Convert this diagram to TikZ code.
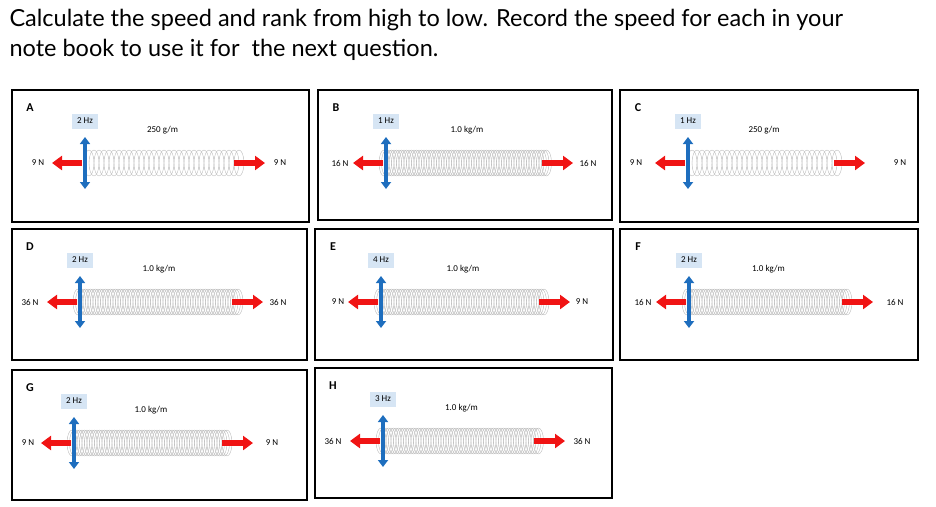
\documentclass[tikz,border=0pt]{standalone}
\usepackage{fontspec}
\setmainfont{Lato}
\newfontfamily\smallf{Carlito}
\usetikzlibrary{arrows.meta}
\definecolor{hzbg}{RGB}{214,229,244}
\definecolor{bluea}{RGB}{30,110,190}
\definecolor{reda}{RGB}{240,20,20}
\tikzset{
 frame/.style={draw=black,line width=2.5pt},
 hzbox/.style={fill=hzbg,minimum width=26pt,minimum height=15pt,inner sep=0pt,font=\smallf\fontsize{9}{10}\selectfont},
 lbl/.style={font=\smallf\fontsize{9}{10}\selectfont,inner sep=1pt},
 letter/.style={font=\smallf\bfseries\fontsize{12}{13}\selectfont},
 coil/.style={draw=gray!55,line width=0.4pt},
 vib/.style={bluea,line width=4pt,{Triangle[width=10pt,length=7pt]}-{Triangle[width=10pt,length=7pt]}},
 pull/.style={reda,line width=6pt,-{Triangle[width=14pt,length=10pt]}}
}
\begin{document}
\begin{tikzpicture}[x=1pt,y=-1pt]
\useasboundingbox (0,0) rectangle (936,506);
\node[anchor=west,font=\fontsize{23.5}{28}\selectfont] (t1) at (6,20) {Calculate the speed and rank from high to low. Record the speed for each in your};
\node[anchor=west,font=\fontsize{23.5}{28}\selectfont] (t2) at (6,50) {note book to use it for\ \ the next question.};
\foreach \xa/\xb/\ya/\yb/\L/\hz/\dn/\N/\bx/\se/\ll/\rl/\st/\so in {
 12/309/90/222/A/2/250 g\slash m/9/85/240/38/280/5/4,
 318/612/90/220/B/1/1.0 kg\slash m/16/386/548/340/588/2.5/-2,
 620/918/90/222/C/1/250 g\slash m/9/688/840/636/900/5/4,
 12/307/229/360/D/2/1.0 kg\slash m/36/80/238/30/278/2.5/-2,
 315/613/229/360/E/4/1.0 kg\slash m/9/381/545/338/582/2.5/-2,
 620/918/229/360/F/2/1.0 kg\slash m/16/689/848/643/895/2.5/-2,
 12/307/370/500/G/2/1.0 kg\slash m/9/74/228/28/272/2.5/-2,
 315/612/368/498/H/3/1.0 kg\slash m/36/383/540/333/582/2.5/-2}{
 \pgfmathsetmacro\yc{\ya+73}
 \pgfmathsetmacro\yh{\ya+31}
 \pgfmathsetmacro\yd{\ya+40}
 \pgfmathsetmacro\xm{(\bx+\se)/2}
 \draw[frame] (\xa,\ya) rectangle (\xb,\yb);
 \node[letter] (let\L) at (\xa+18,\ya+18) {\L};
 \pgfmathsetmacro\ss{\bx+\so}
 \pgfmathsetmacro\sn{\bx+\so+\st}
 \foreach \x in {\ss,\sn,...,\se}{\draw[coil] (\x,\yc) ellipse (5pt and 13pt);}
 \node[hzbox] (hz\L) at (\bx,\yh) {\hz\ Hz};
 \node[lbl] (dn\L) at (\xm,\yd) {\dn};
 \coordinate (c\L) at (\bx,\yc);
 \coordinate (e\L) at (\se,\yc);
 \node[lbl] (ln\L) at (\ll,\yc) {\N\ N};
 \node[lbl] (rn\L) at (\rl,\yc) {\N\ N};
 \draw[vib] ([yshift=-26pt]c\L) -- ([yshift=26pt]c\L);
 \draw[pull] ([xshift=-3pt]c\L) -- ([xshift=-33pt]c\L);
 \draw[pull] ([xshift=-6pt]e\L) -- ([xshift=25pt]e\L);
}
\end{tikzpicture}
\end{document}
